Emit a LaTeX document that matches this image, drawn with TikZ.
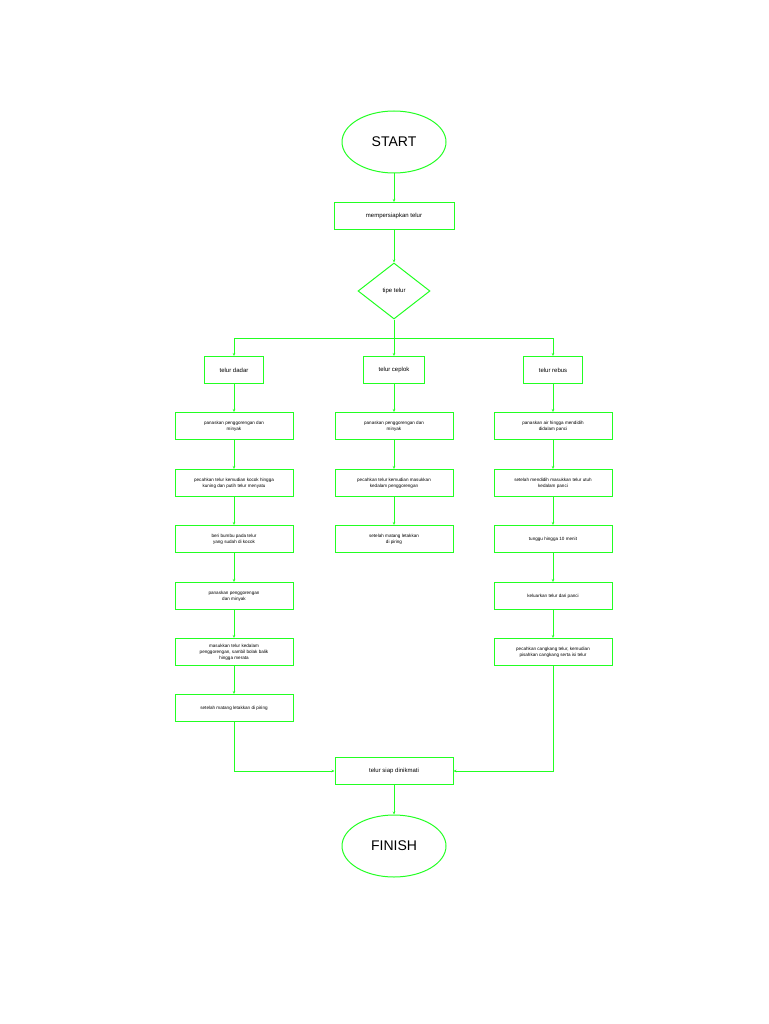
\documentclass[tikz,border=0pt]{standalone}
\usepackage{fontspec}
\setmainfont{Liberation Sans}
\usetikzlibrary{shapes.geometric,arrows.meta}
\definecolor{g}{HTML}{22FF22}
\begin{document}
\begin{tikzpicture}[x=1pt,y=-1pt,
 box/.style={draw=g,line width=1pt,rectangle,minimum width=118pt,minimum height=27pt,align=center,font=\fontsize{4.6}{6}\selectfont,inner sep=1pt},
 hbox/.style={draw=g,line width=1pt,rectangle,minimum width=59pt,minimum height=27pt,font=\fontsize{6}{7}\selectfont},
 oval/.style={draw=g,line width=1pt,ellipse,minimum width=104pt,minimum height=62pt,font=\fontsize{14}{16}\selectfont},
 ar/.style={draw=g,line width=0.8pt,-{Stealth[length=3pt,width=2.5pt]}},
 ln/.style={draw=g,line width=0.8pt}]
\useasboundingbox (0,0) rectangle (768,1024);
\node[oval] (start) at (394,142) {START};
\node[box,minimum width=120pt,font=\fontsize{6}{7}\selectfont] (prep) at (394,216) {mempersiapkan telur};
\node[draw=g,line width=1pt,diamond,minimum width=72pt,minimum height=56pt,inner sep=0pt,font=\fontsize{6}{7}\selectfont] (tipe) at (394,291) {tipe telur};
\node[hbox] (dadar) at (234,370) {telur dadar};
\node[hbox,minimum width=61pt] (ceplok) at (394,370) {telur ceplok};
\node[hbox] (rebus) at (553,370) {telur rebus};
\node[box] (a1) at (234,426) {panaskan penggorengan dan\\minyak};
\node[box] (a2) at (234,483) {pecahkan telur kemudian kocok hingga\\kuning dan putih telur menyatu};
\node[box] (a3) at (234,539) {beri bumbu pada telur\\yang sudah di kocok};
\node[box] (a4) at (234,596) {panaskan penggorengan\\dan minyak};
\node[box] (a5) at (234,652) {masukkan telur kedalam\\penggorengan, sambil bolak balik\\hingga merata};
\node[box] (a6) at (234,708) {setelah matang letakkan di piring};
\node[box] (b1) at (394,426) {panaskan penggorengan dan\\minyak};
\node[box] (b2) at (394,483) {pecahkan telur kemudian masukkan\\kedalam penggorengan};
\node[box] (b3) at (394,539) {setelah matang letakkan\\di piring};
\node[box] (c1) at (553,426) {panaskan air hingga mendidih\\didalam panci};
\node[box] (c2) at (553,483) {setelah mendidih masukkan telur utuh\\kedalam panci};
\node[box] (c3) at (553,539) {tunggu hingga 10 menit};
\node[box] (c4) at (553,596) {keluarkan telur dari panci};
\node[box] (c5) at (553,652) {pecahkan cangkang telur, kemudian\\pisahkan cangkang serta isi telur};
\node[box,font=\fontsize{6}{7}\selectfont] (siap) at (394,771) {telur siap dinikmati};
\node[oval] (finish) at (394,846) {FINISH};
\coordinate (j) at (394,338);
\draw[ar] (start) -- (prep);
\draw[ar] (prep) -- (tipe);
\draw[ln] (tipe) -- (j);
\draw[ar] (j) -- (ceplok);
\draw[ar] (j) -| (dadar);
\draw[ar] (j) -| (rebus);
\draw[ar] (dadar) -- (a1);
\draw[ar] (a1) -- (a2);
\draw[ar] (a2) -- (a3);
\draw[ar] (a3) -- (a4);
\draw[ar] (a4) -- (a5);
\draw[ar] (a5) -- (a6);
\draw[ar] (ceplok) -- (b1);
\draw[ar] (b1) -- (b2);
\draw[ar] (b2) -- (b3);
\draw[ar] (rebus) -- (c1);
\draw[ar] (c1) -- (c2);
\draw[ar] (c2) -- (c3);
\draw[ar] (c3) -- (c4);
\draw[ar] (c4) -- (c5);
\draw[ar] (a6) |- (siap);
\draw[ar] (c5) |- (siap);
\draw[ar] (siap) -- (finish);
\end{tikzpicture}
\end{document}
